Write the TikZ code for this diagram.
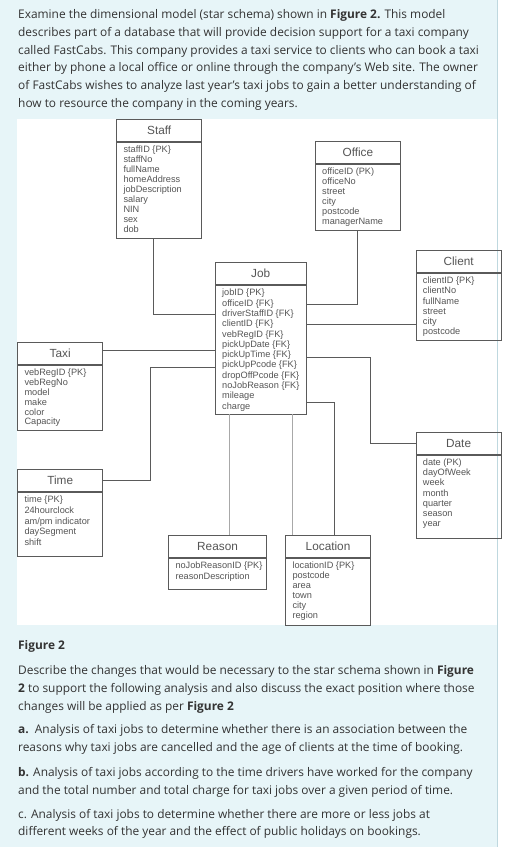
\documentclass[tikz,border=0pt]{standalone}
\usepackage{fontspec}
\setmainfont{Open Sans}
\newfontfamily\erfont{Liberation Sans}
\usetikzlibrary{positioning,calc}
\definecolor{pagebg}{HTML}{E7F5F8}
\definecolor{pageedge}{HTML}{BFD8DF}
\definecolor{bodytext}{HTML}{333333}
\definecolor{ertext}{HTML}{555555}
\definecolor{erline}{HTML}{5A5A5A}
\definecolor{erlink}{HTML}{A8A8A8}
\tikzset{
  enttitle/.style={draw=erline, line width=0.8pt, anchor=north west, minimum height=22pt, inner sep=0pt,
    font=\erfont\fontsize{11.8}{14}\selectfont, text=ertext},
  entbody/.style={draw=erline, line width=0.8pt, anchor=north west, inner sep=0pt},
  entattr/.style={inner sep=0pt, align=left, text=ertext},
  link/.style={erline, line width=0.8pt},
  lightlink/.style={erlink, line width=0.8pt},
  % multi-line paragraphs are placed by the baseline of their last line
  para/.style={anchor=base west, inner sep=0pt, align=left, text=bodytext,
    font=\fontsize{11.9}{17.8}\selectfont}
}

\begin{document}
\begin{tikzpicture}[x=1pt,y=-1pt]
  \useasboundingbox (0,0) rectangle (511,847);
  % page and figure area
  \fill[pagebg] (0,0) rectangle (497,847);
  \draw[pageedge] (497,0) -- (497,847);
  \fill[white] (17,119) rectangle (497,625);

  \node[para] (intro) at (18,107.5) {Examine the dimensional model (star schema) shown in \textbf{Figure 2.} This model\\
    describes part of a database that will provide decision support for a taxi company\\
    called FastCabs. This company provides a taxi service to clients who can book a taxi\\
    either by phone a local office or online through the company's Web site. The owner\\
    of FastCabs wishes to analyze last year's taxi jobs to gain a better understanding of\\
    how to resource the company in the coming years.};

  % entities: name/title/x/y/width/body height/line skip/attributes
  \foreach \nm/\ttl/\px/\py/\bw/\bh/\lsk/\attrs in {
    staff/Staff/116.3/119.3/85/95.4/10/{staffID \{PK\}\\staffNo\\fullName\\homeAddress\\jobDescription\\salary\\NIN\\sex\\dob},
    office/Office/315/140.7/85/66.6/10.1/{officeID (PK)\\officeNo\\street\\city\\postcode\\managerName},
    client/Client/415.7/250.3/85/67/10.1/{clientID \{PK\}\\clientNo\\fullName\\street\\city\\postcode},
    job/Job/215/262.3/90.7/128.4/10.3/{jobID \{PK\}\\officeID \{FK\}\\driverStaffID \{FK\}\\clientID \{FK\}\\vebRegID \{FK\}\\pickUpDate \{FK\}\\pickUpTime \{FK\}\\pickUpPcode \{FK\}\\dropOffPcode \{FK\}\\noJobReason \{FK\}\\mileage\\charge},
    taxi/Taxi/17.3/342.3/85/64.7/9.8/{vebRegID \{PK\}\\vebRegNo\\model\\make\\color\\Capacity},
    time/Time/17.3/468.7/85/64.3/10.9/{time \{PK\}\\24hourclock\\am/pm indicator\\daySegment\\shift},
    date/Date/415.7/432/85/83/10.2/{date (PK)\\dayOfWeek\\week\\month\\quarter\\season\\year},
    reason/Reason/168.3/534.7/97.7/31.6/11.3/{noJobReasonID \{PK\}\\reasonDescription},
    location/Location/285.3/534.7/84.7/67.3/10.1/{locationID \{PK\}\\postcode\\area\\town\\city\\region}}
  {
    \node[enttitle, minimum width=\bw pt] (\nm) at (\px,\py) {\ttl};
    \node[entbody, minimum width=\bw pt, minimum height=\bh pt] (\nm-b) at (\nm.south west) {};
    \node[entattr, font=\erfont\fontsize{9.2}{\lsk}\selectfont, below right=3.9pt and 7pt of \nm-b.north west,
      anchor=north west] (\nm-a) {\attrs};
  }

  % connectors to the fact table
  \draw[link] ([xshift=37pt]staff-b.south west) |- ([yshift=-29pt]job-b.north west);
  \draw[link] ([xshift=42.7pt]office-b.south west) |- ([yshift=-19pt]job-b.north east);
  \draw[link] ([yshift=-39.4pt]job-b.north east) coordinate (cl) -- (cl -| client-b.west);
  \draw[link] ([yshift=3.3pt]taxi.east) coordinate (tx) -- (tx -| job-b.west);
  \draw[link] (time.east) -- ++(47.4,0) |- ([yshift=-82.4pt]job-b.north west);
  \draw[link] ([yshift=-72.7pt]job-b.north east) -- ++(64,0) |- (date.west);
  \draw[link] ([yshift=-117.7pt]job-b.north east) -| ([xshift=48.7pt]location.north west);
  \draw[lightlink] ([xshift=77.3pt]job-b.south west) coordinate (lc) -- (lc |- location.north);
  \draw[lightlink] ([xshift=14pt]job-b.south west) coordinate (rs) -- (rs |- reason.north);

  \node[para] (caption) at (18,649.7) {\textbf{Figure 2}};
  \node[para] (task) at (18,710.3) {Describe the changes that would be necessary to the star schema shown in \textbf{Figure}\\
    \textbf{2} to support the following analysis and also discuss the exact position where those\\
    changes will be applied as per \textbf{Figure 2}};
  \node[para] (parta) at (18,751.5) {\textbf{a.}\ \ Analysis of taxi jobs to determine whether there is an association between the\\
    reasons why taxi jobs are cancelled and the age of clients at the time of booking.};
  \node[para] (partb) at (18,794.1) {\textbf{b.} Analysis of taxi jobs according to the time drivers have worked for the company\\
    and the total number and total charge for taxi jobs over a given period of time.};
  \node[para] (partc) at (18,835.8) {c. Analysis of taxi jobs to determine whether there are more or less jobs at\\
    different weeks of the year and the effect of public holidays on bookings.};
\end{tikzpicture}
\end{document}
